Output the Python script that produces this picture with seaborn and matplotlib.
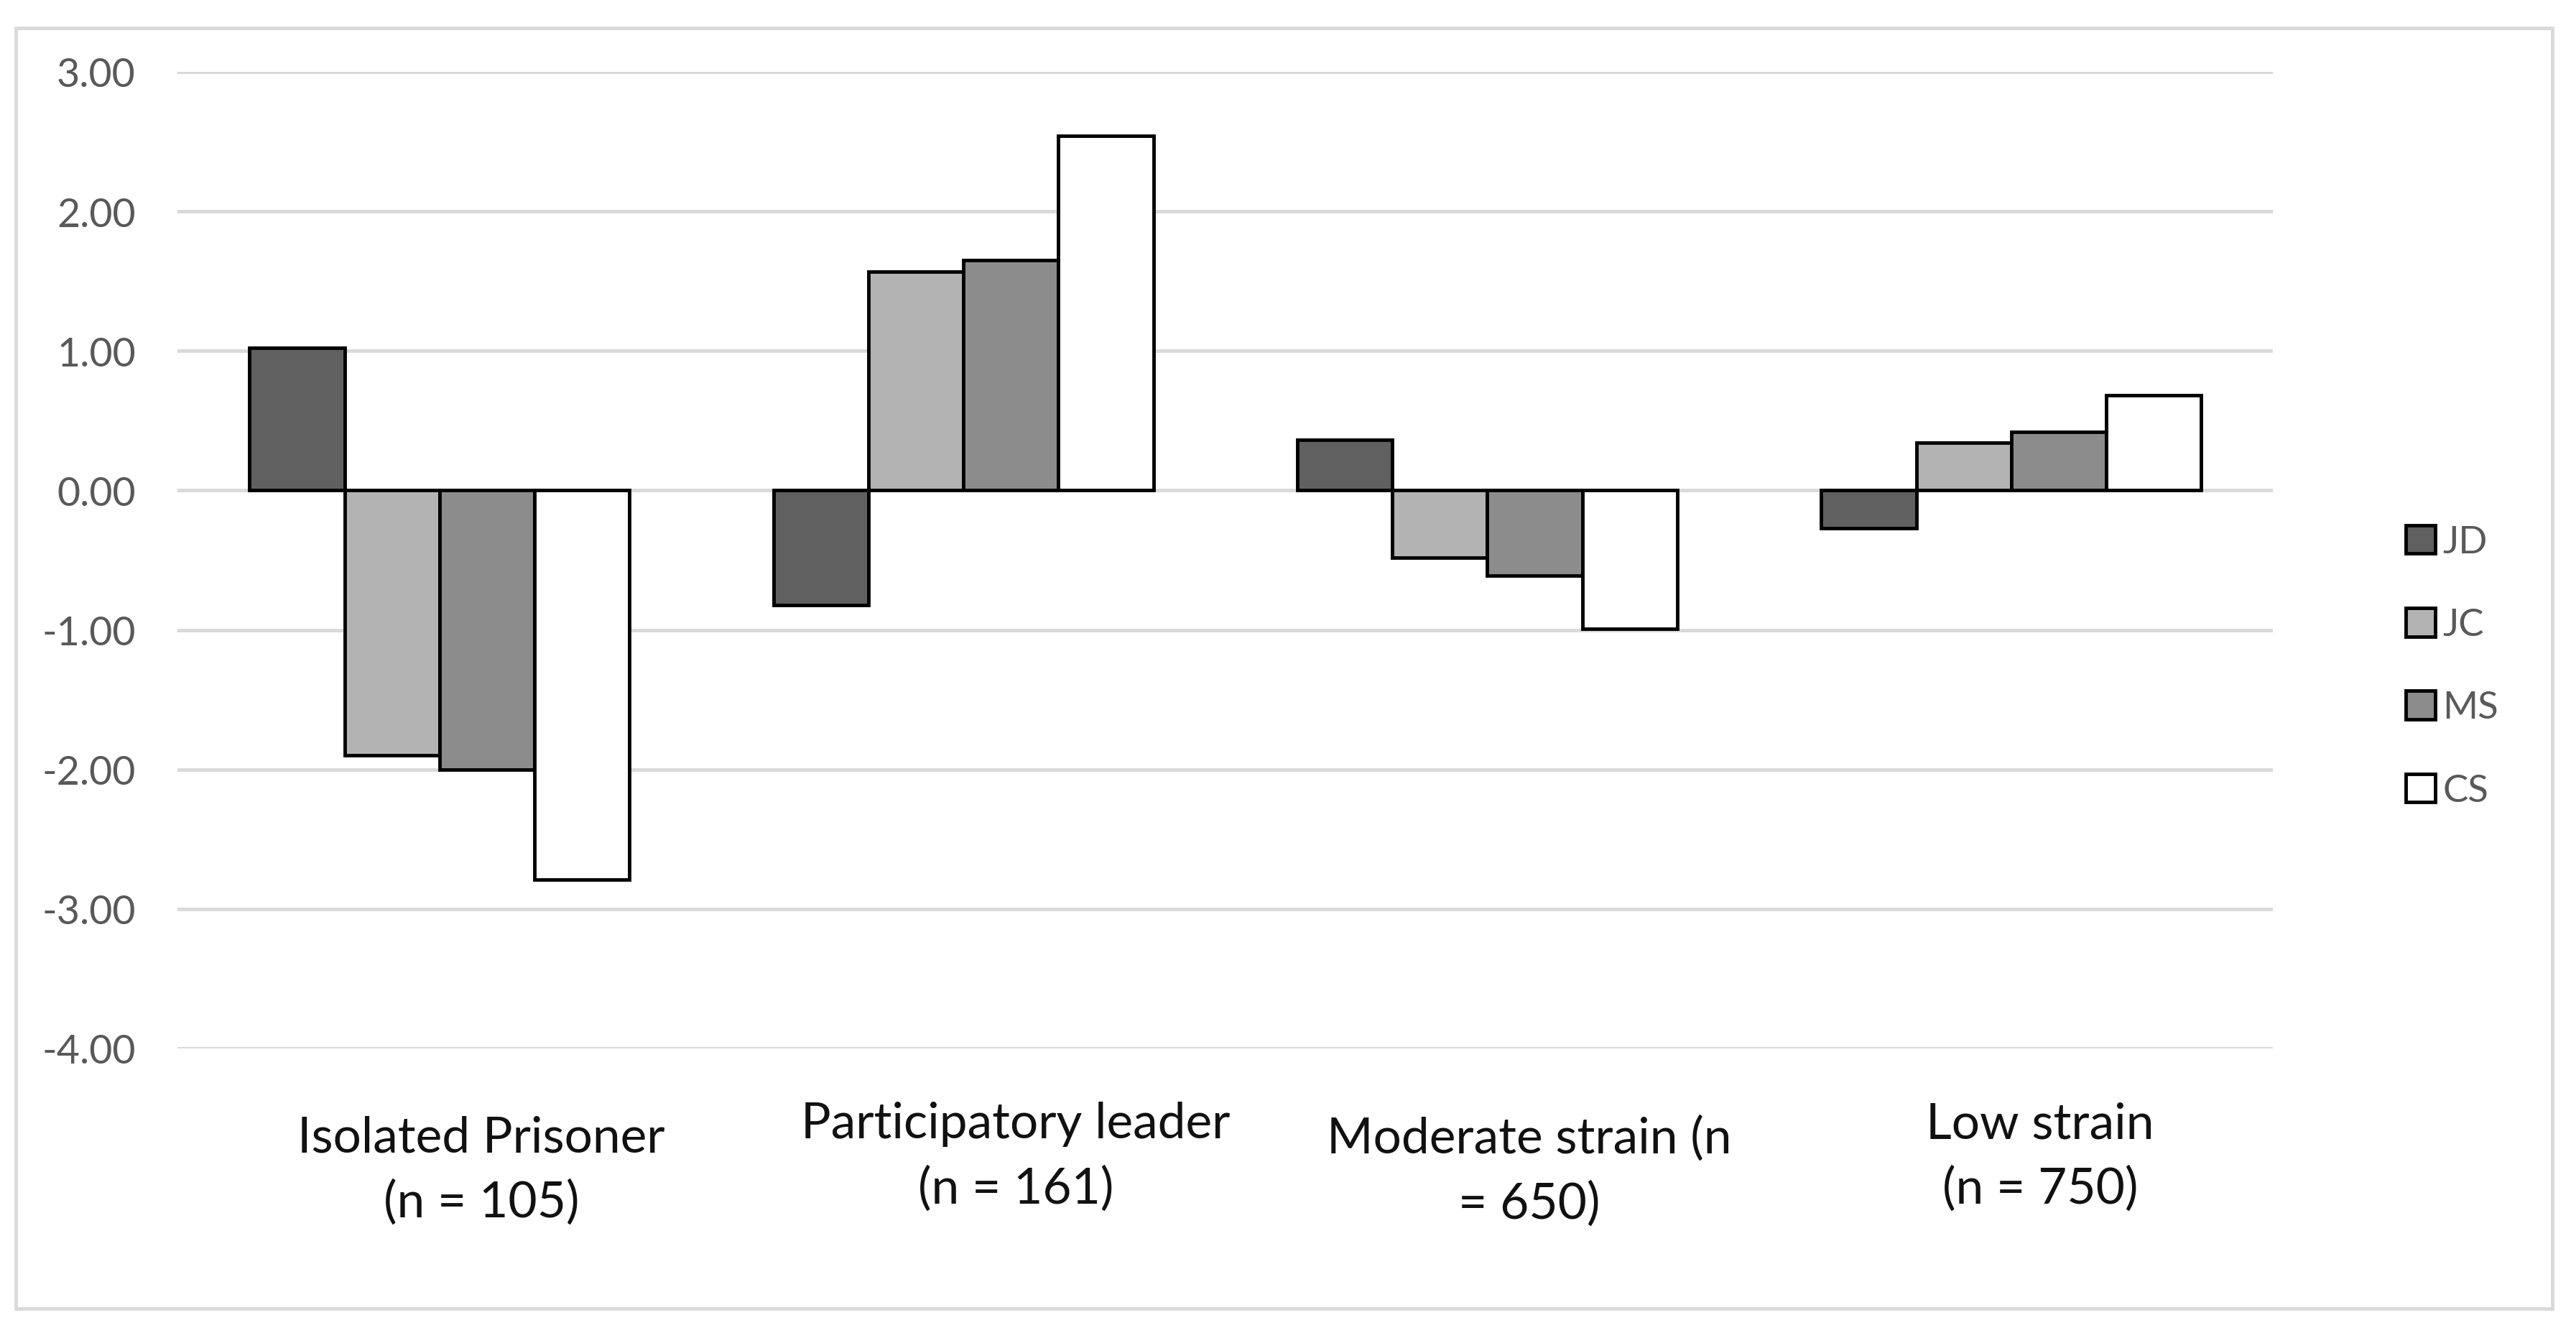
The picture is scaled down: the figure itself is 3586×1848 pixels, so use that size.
import pandas as pd
import seaborn as sns
import matplotlib.pyplot as plt
import matplotlib.ticker as mticker
import matplotlib.transforms as mtransforms
from matplotlib.patches import Rectangle

CATEGORIES = [
    "Isolated Prisoner\n(n = 105)",
    "Participatory leader\n(n = 161)",
    "Moderate strain (n\n= 650)",
    "Low strain\n(n = 750)",
]
GROUPS = ["JD", "JC", "MS", "CS"]
JD = [1.02, -0.82, 0.36, -0.27]
JC = [-1.90, 1.57, -0.48, 0.34]
MS = [-2.00, 1.65, -0.61, 0.42]
CS = [-2.79, 2.54, -0.99, 0.68]
COLORS = ["#606060", "#b3b3b3", "#8c8c8c", "#ffffff"]
Y_TICKS = [-4, -3, -2, -1, 0, 1, 2, 3]

# label placement quirks of the original (x shift in categories, y in axes fraction)
LABEL_DX = [0.08, 0.10, 0.08, 0.055]
LABEL_Y = [-0.068, -0.054, -0.068, -0.054]

GRID_COLOR = "#d9d9d9"
TEXT_GRAY = "#595959"


def main():
    sns.set_style("white")
    plt.rcParams["font.family"] = ["Lato", "DejaVu Sans"]
    plt.rcParams["axes.unicode_minus"] = False

    df = pd.DataFrame({"category": CATEGORIES, "JD": JD, "JC": JC, "MS": MS, "CS": CS})
    df = df.melt(id_vars="category", var_name="group", value_name="score")

    fig = plt.figure(figsize=(35.87, 18.49), dpi=100)
    ax = fig.add_axes([0.0689, 0.2104, 0.8133, 0.735])

    sns.barplot(
        data=df, x="category", y="score", hue="group", hue_order=GROUPS,
        palette=dict(zip(GROUPS, COLORS)), width=0.725, edgecolor="black",
        linewidth=3.5, saturation=1, ax=ax,
    )

    ax.set_xlim(-0.5, len(CATEGORIES) - 0.5)
    ax.set_ylim(-4, 3)
    ax.set_yticks(Y_TICKS)
    ax.yaxis.set_major_formatter(mticker.FuncFormatter(lambda v, _: f"{v:.2f}"))
    ax.tick_params(axis="y", length=0, pad=42, labelsize=40, labelcolor=TEXT_GRAY)
    ax.tick_params(axis="x", length=0)
    ax.set_xticks(range(len(CATEGORIES)))
    ax.set_xticklabels([])
    ax.set_xlabel("")
    ax.set_ylabel("")
    ax.grid(axis="y", color=GRID_COLOR, linewidth=3.5)
    ax.set_axisbelow(True)
    for s in ax.spines.values():
        s.set_visible(False)

    trans = mtransforms.blended_transform_factory(ax.transData, ax.transAxes)
    for i, (lab, dx, y) in enumerate(zip(CATEGORIES, LABEL_DX, LABEL_Y)):
        ax.text(i + dx, y, lab, transform=trans, ha="center", va="top",
                multialignment="center", fontsize=50, linespacing=1.5, color="#111111")

    handles, labels = ax.get_legend_handles_labels()
    ax.legend(
        handles, labels, loc="center left", bbox_to_anchor=(0.9337, 0.498),
        bbox_transform=fig.transFigure, frameon=False, fontsize=38,
        handlelength=0.78, handleheight=0.78, handletextpad=0.19,
        labelspacing=1.29, borderpad=0, borderaxespad=0, labelcolor=TEXT_GRAY,
    )

    fig.add_artist(Rectangle((0.0061, 0.0146), 0.9844, 0.9638, transform=fig.transFigure,
                             fill=False, edgecolor=GRID_COLOR, linewidth=3.5))

    fig.savefig("out.png", dpi=100)


if __name__ == "__main__":
    main()
